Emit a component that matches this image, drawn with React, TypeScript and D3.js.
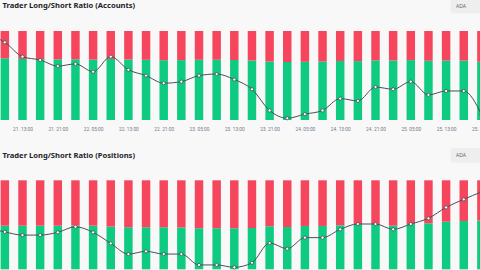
import { useEffect, useRef } from 'react';
import * as d3 from 'd3';

// 4h buckets, the first one sits just left of the visible plot
const times = [
  '21. 05:00', '21. 09:00', '21. 13:00', '21. 17:00', '21. 21:00',
  '22. 01:00', '22. 05:00', '22. 09:00', '22. 13:00', '22. 17:00', '22. 21:00',
  '23. 01:00', '23. 05:00', '23. 09:00', '23. 13:00', '23. 17:00', '23. 21:00',
  '24. 01:00', '24. 05:00', '24. 09:00', '24. 13:00', '24. 17:00', '24. 21:00',
  '25. 01:00', '25. 05:00', '25. 09:00', '25. 13:00', '25. 17:00', '25. 21:00'
];

const tickLabels = [
  '21. 13:00', '21. 21:00', '22. 05:00', '22. 13:00', '22. 21:00', '23. 05:00', '23. 13:00',
  '23. 21:00', '24. 05:00', '24. 13:00', '24. 21:00', '25. 05:00', '25. 13:00', '25. 21:00'
];

// accounts (%)
const accountsLong = [
  69.73, 69.33, 68.61, 68.45, 68.13, 68.24, 67.83, 68.61, 67.94, 67.63, 67.21, 67.3, 67.63, 67.71,
  67.42, 66.88, 65.64, 65.16, 65.41, 65.64, 66.34, 66.2, 67.0, 66.88, 67.3, 66.56, 66.78, 66.78, 65.4
];
const accountsShort = [
  30.27, 30.67, 31.39, 31.55, 31.87, 31.76, 32.17, 31.39, 32.06, 32.37, 32.79, 32.7, 32.37, 32.29,
  32.58, 33.12, 34.36, 34.84, 34.59, 34.36, 33.66, 33.8, 33.0, 33.12, 32.7, 33.44, 33.22, 33.22, 34.6
];
const accountsRatio = [
  2.303, 2.26, 2.186, 2.169, 2.138, 2.149, 2.109, 2.186, 2.119, 2.089, 2.05, 2.058, 2.089, 2.097,
  2.069, 2.019, 1.91, 1.87, 1.891, 1.91, 1.971, 1.959, 2.03, 2.019, 2.058, 1.99, 2.01, 2.01, 1.89
];

// positions (%)
const positionsLong = [
  49.0, 49.0, 49.0, 49.0, 49.0, 49.2, 49.0, 47.9, 47.2, 47.2, 47.2, 47.0, 46.1, 46.1,
  46.1, 46.4, 48.3, 47.5, 48.7, 48.7, 49.4, 50.9, 50.9, 49.0, 50.9, 51.7, 53.5, 54.3, 54.8
];
const positionsShort = [
  51.0, 51.0, 51.0, 51.0, 51.0, 50.8, 51.0, 52.1, 52.8, 52.8, 52.8, 53.0, 53.9, 53.9,
  53.9, 53.6, 51.7, 52.5, 51.3, 51.3, 50.6, 49.1, 49.1, 51.0, 49.1, 48.3, 46.5, 45.7, 45.2
];
const positionsRatio = [
  1.059, 1.039, 1.023, 1.023, 1.037, 1.065, 1.037, 0.981, 0.927, 0.941, 0.927, 0.927, 0.872, 0.872,
  0.86, 0.883, 0.983, 0.954, 1.01, 1.01, 1.052, 1.079, 1.079, 1.052, 1.079, 1.108, 1.163, 1.204, 1.241
];

interface Panel {
  title: string;
  offsetY: number;
  long: number[];
  short: number[];
  ratio: number[];
  ratioDomain: [number, number];
  showAxis: boolean;
}

const panels: Panel[] = [
  {
    title: 'Trader Long/Short Ratio (Accounts)',
    offsetY: 0,
    long: accountsLong,
    short: accountsShort,
    ratio: accountsRatio,
    ratioDomain: [1.861, 2.318],
    showAxis: true
  },
  {
    title: 'Trader Long/Short Ratio (Positions)',
    offsetY: 149.3,
    long: positionsLong,
    short: positionsShort,
    ratio: positionsRatio,
    ratioDomain: [0.85, 1.3],
    // axis falls below the bottom of the viewport
    showAxis: false
  }
];

const WIDTH = 480;
const HEIGHT = 270;
const PLOT_TOP = 31;
const PLOT_BOTTOM = 120;
const GREEN = '#0ecb81';
const RED = '#f6465d';
const LINE = '#4a4f57';

export default function App() {
  const svgRef = useRef<SVGSVGElement>(null);

  useEffect(() => {
    if (!svgRef.current) return;
    const svgEl = d3.select(svgRef.current);
    svgEl.selectAll('*').remove();

    svgEl.append('rect').attr('width', WIDTH).attr('height', HEIGHT).attr('fill', '#f8f8f8');

    const x = d3.scalePoint<string>().domain(times).range([-12.8, 481.4]);
    const barWidth = x.step() * 0.48;

    panels.forEach((panel) => drawPanel(svgEl, panel, x, barWidth));
  }, []);

  const drawPanel = (
    svgEl: d3.Selection<SVGSVGElement, unknown, null, undefined>,
    panel: Panel,
    x: d3.ScalePoint<string>,
    barWidth: number
  ) => {
    const g = svgEl.append('g').attr('transform', `translate(0, ${panel.offsetY})`);

    g.append('text')
      .text(panel.title)
      .attr('x', 2.5)
      .attr('y', 8.4)
      .attr('font-family', '"Noto Sans", sans-serif')
      .attr('font-size', 7.6)
      .attr('font-weight', 700)
      .attr('fill', '#1e2329');

    // symbol selector
    const btn = g.append('g').attr('transform', 'translate(450.5, -1.5)');
    btn.append('rect').attr('width', 40).attr('height', 15).attr('rx', 3).attr('fill', '#eeeeef');
    btn
      .append('text')
      .text('ADA')
      .attr('x', 5.5)
      .attr('y', 9.6)
      .attr('font-family', '"Noto Sans", sans-serif')
      .attr('font-size', 5)
      .attr('fill', '#5e6673');

    const yPct = d3.scaleLinear().domain([0, 100]).range([PLOT_BOTTOM, PLOT_TOP]);
    const yRatio = d3.scaleLinear().domain(panel.ratioDomain).range([PLOT_BOTTOM, PLOT_TOP]);

    const rows = times.map((t, i) => ({ time: t, long: panel.long[i], short: panel.short[i] }));
    const series = d3.stack<{ time: string; long: number; short: number }>().keys(['long', 'short'])(rows);

    g.append('g')
      .selectAll('g')
      .data(series)
      .enter()
      .append('g')
      .attr('fill', (s) => (s.key === 'long' ? GREEN : RED))
      .selectAll('rect')
      .data((s) => s)
      .enter()
      .append('rect')
      .attr('x', (d) => x(d.data.time)! - barWidth / 2)
      .attr('width', barWidth)
      .attr('y', (d) => yPct(d[1]))
      .attr('height', (d) => yPct(d[0]) - yPct(d[1]));

    const lineGen = d3
      .line<number>()
      .x((_, i) => x(times[i])!)
      .y((d) => yRatio(d))
      .curve(d3.curveMonotoneX);

    g.append('path')
      .attr('d', lineGen(panel.ratio))
      .attr('fill', 'none')
      .attr('stroke', LINE)
      .attr('stroke-width', 1);

    g.append('g')
      .selectAll('circle')
      .data(panel.ratio)
      .enter()
      .append('circle')
      .attr('cx', (_, i) => x(times[i])!)
      .attr('cy', (d) => yRatio(d))
      .attr('r', 1.6)
      .attr('fill', '#fff')
      .attr('stroke', LINE)
      .attr('stroke-width', 0.8);

    if (!panel.showAxis) return;

    const axis = g
      .append('g')
      .attr('transform', `translate(0, ${PLOT_BOTTOM})`)
      .call(d3.axisBottom(x).tickValues(tickLabels).tickSize(0).tickPadding(7.5));
    axis.select('.domain').remove();
    axis
      .selectAll('text')
      .attr('font-family', 'Roboto, sans-serif')
      .attr('font-size', 4.8)
      .attr('fill', '#707a8a');
  };

  return (
    <svg
      ref={svgRef}
      width={WIDTH}
      height={HEIGHT}
      style={{ position: 'absolute', left: 0, top: 0, display: 'block' }}
    />
  );
}
